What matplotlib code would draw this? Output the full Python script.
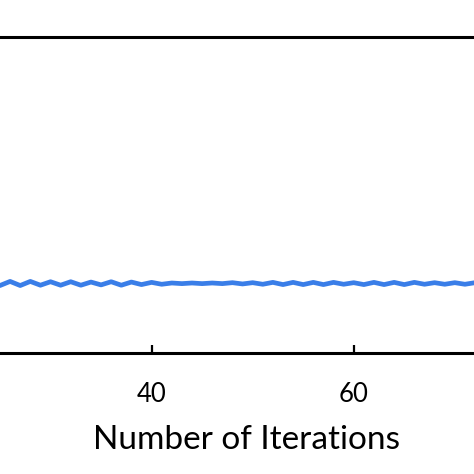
import numpy as np
import matplotlib
matplotlib.use("Agg")
import matplotlib.pyplot as plt

plt.rcParams['font.family'] = ['Lato', 'DejaVu Sans']

# iterations visible in the crop and the (converged) loss values
iterations = np.arange(24, 75)
loss = [0.226, 0.213, 0.226, 0.213, 0.226, 0.214, 0.225, 0.214, 0.225, 0.214,
        0.224, 0.215, 0.225, 0.214, 0.224, 0.216, 0.223, 0.217, 0.221, 0.219,
        0.221, 0.219, 0.221, 0.219, 0.222, 0.218, 0.222, 0.217, 0.223, 0.216,
        0.223, 0.216, 0.223, 0.216, 0.223, 0.217, 0.222, 0.216, 0.223, 0.216,
        0.223, 0.216, 0.223, 0.217, 0.222, 0.217, 0.222, 0.217, 0.222, 0.217,
        0.222]
xticks = [40, 60]

fig = plt.figure(figsize=(4.74, 4.74), dpi=100)
# the chart is cropped: axes run past the left and right edges
ax = fig.add_axes([-0.5331, 0.2559, 2.1323, 0.6654])
ax.plot(iterations, loss, color='#3a7ee8', lw=3.4)

ax.set_xlim(0, 100)
ax.set_ylim(0, 1)
ax.set_xticks(xticks)
ax.set_yticks([])
ax.tick_params(axis='x', direction='in', length=5.8, width=1.6,
               labelsize=18.5, pad=21)
for s in ax.spines.values():
    s.set_linewidth(2.2)

ax.set_xlabel('Number of Iterations', fontsize=24)
ax.xaxis.set_label_coords(0.494, -0.228)

fig.savefig('out.png', dpi=100)
